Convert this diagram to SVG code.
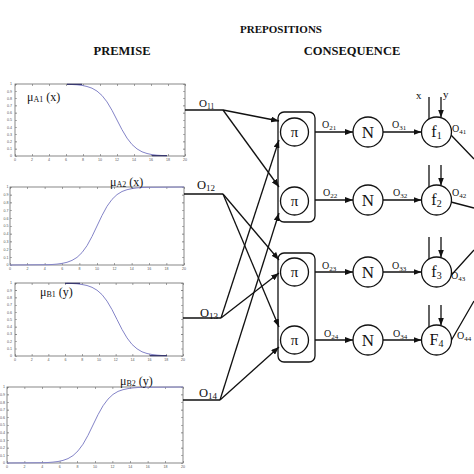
<svg xmlns="http://www.w3.org/2000/svg" width="474" height="474" viewBox="0 0 474 474">
<defs>
<style>
.t{font-family:"Liberation Serif","Times New Roman",serif;fill:#111}
.h{font-weight:bold;text-anchor:middle}
.fr{fill:none;stroke:#6a6a6a;stroke-width:0.8}
.tk{fill:none;stroke:#6a6a6a;stroke-width:2}
.cv{fill:none;stroke:#8484c8;stroke-width:1}
.dk{fill:none;stroke:#3a3a70;stroke-width:1.3}
.tl{font-family:"Liberation Sans",Arial,sans-serif;font-size:3.6px;fill:#555}
.ln{fill:none;stroke:#111;stroke-width:1.3}
.ar{fill:none;stroke:#111;stroke-width:1.3;marker-end:url(#ah)}
.nd{fill:#fff;stroke:#111;stroke-width:1.3}
.bx{fill:none;stroke:#111;stroke-width:1.3}
.c{text-anchor:middle}
</style>
<marker id="ah" markerWidth="8" markerHeight="6" refX="8" refY="3" orient="auto" markerUnits="userSpaceOnUse"><path d="M0,0 L8,3 L0,6 z" fill="#111"/></marker>
</defs>
<rect width="474" height="474" fill="#fff"/>

<text class="t h" x="281" y="33" font-size="11">PREPOSITIONS</text>
<text class="t h" x="122" y="55" font-size="12.5">PREMISE</text>
<text class="t h" x="352" y="55" font-size="12.5">CONSEQUENCE</text>

<g id="plot-a1">
<rect class="fr" x="15" y="84" width="170" height="72"/>
<path class="tk" d="M15,155H185.6M15,85H185.6" stroke-dasharray="0.6 16.4"/>
<path class="tk" d="M16,84V156.6M184,84V156.6" stroke-dasharray="0.6 6.6"/>
<polyline class="cv" points="67,84.3 72,84.5 77,84.8 82,85.4 87,86.5 92,88.2 97,91.1 102,95.5 107,101.9 112,110.3 117,120 122,129.7 127,138.1 132,144.5 137,148.9 142,151.8 147,153.5 152,154.6 157,155.2 162,155.5 167,155.7"/>
<path class="dk" d="M67,84.3H82M152,155.6H167"/>
<text class="tl" text-anchor="end"><tspan x="12" y="85.3">1</tspan><tspan x="12" y="92.5">0.9</tspan><tspan x="12" y="99.7">0.8</tspan><tspan x="12" y="106.9">0.7</tspan><tspan x="12" y="114.1">0.6</tspan><tspan x="12" y="121.3">0.5</tspan><tspan x="12" y="128.5">0.4</tspan><tspan x="12" y="135.7">0.3</tspan><tspan x="12" y="142.9">0.2</tspan><tspan x="12" y="150.1">0.1</tspan><tspan x="12" y="157.3">0</tspan></text>
<text class="tl" text-anchor="middle"><tspan x="15" y="160.5">0</tspan><tspan x="32" y="160.5">2</tspan><tspan x="49" y="160.5">4</tspan><tspan x="66" y="160.5">6</tspan><tspan x="83" y="160.5">8</tspan><tspan x="100" y="160.5">10</tspan><tspan x="117" y="160.5">12</tspan><tspan x="134" y="160.5">14</tspan><tspan x="151" y="160.5">16</tspan><tspan x="168" y="160.5">18</tspan><tspan x="185" y="160.5">20</tspan></text>
<text class="t" x="27" y="101" font-size="12">μ<tspan font-size="8" dy="1">A1</tspan><tspan dy="-1"> (x)</tspan></text>
</g>

<g id="plot-a2">
<rect class="fr" x="10" y="187" width="174" height="78"/>
<path class="tk" d="M10,264H184.6M10,188H184.6" stroke-dasharray="0.6 16.8"/>
<path class="tk" d="M11,187V265.6M183,187V265.6" stroke-dasharray="0.6 7.2"/>
<polyline class="cv" points="10,265 47,264.7 52,264.5 57,264.1 62,263.4 67,262.3 72,260.4 77,257.4 82,252.6 87,245.7 92,236.5 97,226 102,215.5 107,206.3 112,199.4 117,194.6 122,191.5 127,189.7 132,188.6 137,187.9 142,187.5 147,187.3 184,187"/>
<text class="tl" text-anchor="end"><tspan x="8.5" y="188.3">1</tspan><tspan x="8.5" y="196.1">0.9</tspan><tspan x="8.5" y="203.9">0.8</tspan><tspan x="8.5" y="211.7">0.7</tspan><tspan x="8.5" y="219.5">0.6</tspan><tspan x="8.5" y="227.3">0.5</tspan><tspan x="8.5" y="235.1">0.4</tspan><tspan x="8.5" y="242.9">0.3</tspan><tspan x="8.5" y="250.7">0.2</tspan><tspan x="8.5" y="258.5">0.1</tspan><tspan x="8.5" y="266.3">0</tspan></text>
<text class="tl" text-anchor="middle"><tspan x="10" y="269.5">0</tspan><tspan x="27.4" y="269.5">2</tspan><tspan x="44.8" y="269.5">4</tspan><tspan x="62.2" y="269.5">6</tspan><tspan x="79.6" y="269.5">8</tspan><tspan x="97" y="269.5">10</tspan><tspan x="114.4" y="269.5">12</tspan><tspan x="131.8" y="269.5">14</tspan><tspan x="149.2" y="269.5">16</tspan><tspan x="166.6" y="269.5">18</tspan><tspan x="184" y="269.5">20</tspan></text>
<text class="t" x="110" y="186" font-size="12">μ<tspan font-size="8" dy="1">A2</tspan><tspan dy="-1"> (x)</tspan></text>
</g>

<g id="plot-b1">
<rect class="fr" x="15" y="283" width="168" height="73"/>
<path class="tk" d="M15,355H183.6M15,284H183.6" stroke-dasharray="0.6 16.2"/>
<path class="tk" d="M16,283V356.6M182,283V356.6" stroke-dasharray="0.6 6.7"/>
<polyline class="cv" points="67,283.3 72,283.5 77,283.8 82,284.5 87,285.5 92,287.3 97,290.2 102,294.6 107,301.1 112,309.6 117,319.5 122,329.4 127,337.9 132,344.4 137,348.8 142,351.8 147,353.5 152,354.5 157,355.1 162,355.5 167,355.7"/>
<path class="dk" d="M65,283.3H80M150,355.6H167"/>
<text class="tl" text-anchor="end"><tspan x="12" y="284.3">1</tspan><tspan x="12" y="291.6">0.9</tspan><tspan x="12" y="298.9">0.8</tspan><tspan x="12" y="306.2">0.7</tspan><tspan x="12" y="313.5">0.6</tspan><tspan x="12" y="320.8">0.5</tspan><tspan x="12" y="328.1">0.4</tspan><tspan x="12" y="335.4">0.3</tspan><tspan x="12" y="342.7">0.2</tspan><tspan x="12" y="350">0.1</tspan><tspan x="12" y="357.3">0</tspan></text>
<text class="tl" text-anchor="middle"><tspan x="15" y="360.5">0</tspan><tspan x="31.8" y="360.5">2</tspan><tspan x="48.6" y="360.5">4</tspan><tspan x="65.4" y="360.5">6</tspan><tspan x="82.2" y="360.5">8</tspan><tspan x="99" y="360.5">10</tspan><tspan x="115.8" y="360.5">12</tspan><tspan x="132.6" y="360.5">14</tspan><tspan x="149.4" y="360.5">16</tspan><tspan x="166.2" y="360.5">18</tspan><tspan x="183" y="360.5">20</tspan></text>
<text class="t" x="40" y="296" font-size="12">μ<tspan font-size="8" dy="1">B1</tspan><tspan dy="-1"> (y)</tspan></text>
</g>

<g id="plot-b2">
<rect class="fr" x="7" y="387" width="176" height="76"/>
<path class="tk" d="M7,462H183.6M7,388H183.6" stroke-dasharray="0.6 17"/>
<path class="tk" d="M8,387V463.6M182,387V463.6" stroke-dasharray="0.6 7"/>
<polyline class="cv" points="7,463 43,462.7 48,462.5 53,462.1 58,461.5 63,460.4 68,458.6 73,455.6 78,450.9 83,444.2 88,435.3 93,425 98,414.7 103,405.8 108,399.1 113,394.4 118,391.4 123,389.7 128,388.6 133,387.9 138,387.5 143,387.3 183,387"/>
<text class="tl" text-anchor="end"><tspan x="5" y="388.3">1</tspan><tspan x="5" y="395.9">0.9</tspan><tspan x="5" y="403.5">0.8</tspan><tspan x="5" y="411.1">0.7</tspan><tspan x="5" y="418.7">0.6</tspan><tspan x="5" y="426.3">0.5</tspan><tspan x="5" y="433.9">0.4</tspan><tspan x="5" y="441.5">0.3</tspan><tspan x="5" y="449.1">0.2</tspan><tspan x="5" y="456.7">0.1</tspan><tspan x="5" y="464.3">0</tspan></text>
<text class="tl" text-anchor="middle"><tspan x="7" y="468">0</tspan><tspan x="24.6" y="468">2</tspan><tspan x="42.2" y="468">4</tspan><tspan x="59.8" y="468">6</tspan><tspan x="77.4" y="468">8</tspan><tspan x="95" y="468">10</tspan><tspan x="112.6" y="468">12</tspan><tspan x="130.2" y="468">14</tspan><tspan x="147.8" y="468">16</tspan><tspan x="165.4" y="468">18</tspan><tspan x="183" y="468">20</tspan></text>
<text class="t" x="120" y="385" font-size="12">μ<tspan font-size="8" dy="1">B2</tspan><tspan dy="-1"> (y)</tspan></text>
</g>

<g id="connectors">
<path class="ln" d="M185,110H223M184,194H223M183,318H221M183,400H220"/>
<path class="ar" d="M223,110L279,121"/>
<path class="ar" d="M223,110L279,187"/>
<path class="ar" d="M223,194L279,260"/>
<path class="ar" d="M223,194L279,327"/>
<path class="ar" d="M221,318L279,140"/>
<path class="ar" d="M221,318L279,273"/>
<path class="ar" d="M220,400L279,213"/>
<path class="ar" d="M220,400L279,347"/>
<path class="ar" d="M315,132H353"/>
<path class="ar" d="M315,200H353"/>
<path class="ar" d="M315,272H353"/>
<path class="ar" d="M315,340H353"/>
<path class="ar" d="M383,132H421.5"/>
<path class="ar" d="M383,200H421.5"/>
<path class="ar" d="M383,272H421.5"/>
<path class="ar" d="M383,340H421.5"/>
<path class="ar" d="M429,97V119.5M441,97V117.5"/>
<path class="ar" d="M429,165V187.5M441,165V185.5"/>
<path class="ar" d="M429,237V259.5M441,237V257.5"/>
<path class="ar" d="M429,305V327.5M441,305V325.5"/>
<path class="ln" d="M451,135L474,159M451,202L474,208M450.5,276L474,250M451.5,340L474,301"/>
<text class="t" x="199" y="107" font-size="11">O<tspan font-size="7.5" dy="1.5">11</tspan></text>
<text class="t" x="197" y="189" font-size="12.5">O<tspan font-size="9" dy="1.5">12</tspan></text>
<text class="t" x="200" y="317" font-size="12.5">O<tspan font-size="9" dy="1.5">13</tspan></text>
<text class="t" x="199" y="397" font-size="12.5">O<tspan font-size="9" dy="1.5">14</tspan></text>
<text class="t" x="322" y="128" font-size="10">O<tspan font-size="7" dy="1.5">21</tspan></text>
<text class="t" x="323" y="196" font-size="10">O<tspan font-size="7" dy="1.5">22</tspan></text>
<text class="t" x="322" y="269" font-size="10">O<tspan font-size="7" dy="1.5">23</tspan></text>
<text class="t" x="324" y="337" font-size="10">O<tspan font-size="7" dy="1.5">24</tspan></text>
<text class="t" x="392" y="128" font-size="10">O<tspan font-size="7" dy="1.5">31</tspan></text>
<text class="t" x="393" y="196" font-size="10">O<tspan font-size="7" dy="1.5">32</tspan></text>
<text class="t" x="392" y="269" font-size="10">O<tspan font-size="7" dy="1.5">33</tspan></text>
<text class="t" x="393" y="337" font-size="10">O<tspan font-size="7" dy="1.5">34</tspan></text>
<text class="t" x="452" y="132" font-size="10">O<tspan font-size="7" dy="1.5">41</tspan></text>
<text class="t" x="452" y="196" font-size="10">O<tspan font-size="7" dy="1.5">42</tspan></text>
<text class="t" x="451" y="279" font-size="10">O<tspan font-size="7" dy="1.5">43</tspan></text>
<text class="t" x="457" y="339" font-size="10">O<tspan font-size="7" dy="1.5">44</tspan></text>
<text class="t" x="416" y="99" font-size="11">x</text>
<text class="t" x="443" y="98" font-size="11">y</text>
</g>

<g id="layer2-box1"><rect class="bx" x="278" y="112" width="37" height="110" rx="6"/></g>
<g id="layer2-box2"><rect class="bx" x="278" y="253" width="37" height="109" rx="6"/></g>
<g id="pi1"><circle class="nd" cx="294.5" cy="132" r="14"/><text class="t c" x="294.5" y="137" font-size="15">π</text></g>
<g id="pi2"><circle class="nd" cx="294.5" cy="201" r="14"/><text class="t c" x="294.5" y="206" font-size="15">π</text></g>
<g id="pi3"><circle class="nd" cx="294.5" cy="272" r="14"/><text class="t c" x="294.5" y="277" font-size="15">π</text></g>
<g id="pi4"><circle class="nd" cx="294.5" cy="340" r="14"/><text class="t c" x="294.5" y="345" font-size="15">π</text></g>
<g id="n1"><circle class="nd" cx="368" cy="132" r="15"/><text class="t c" x="368" y="138" font-size="17">N</text></g>
<g id="n2"><circle class="nd" cx="368" cy="200" r="15"/><text class="t c" x="368" y="206" font-size="17">N</text></g>
<g id="n3"><circle class="nd" cx="368" cy="272" r="15"/><text class="t c" x="368" y="278" font-size="17">N</text></g>
<g id="n4"><circle class="nd" cx="368" cy="340" r="15"/><text class="t c" x="368" y="346" font-size="17">N</text></g>
<g id="f1"><circle class="nd" cx="436.5" cy="132" r="15"/><text class="t c" x="436.5" y="137" font-size="16">f<tspan font-size="10" dy="2">1</tspan></text></g>
<g id="f2"><circle class="nd" cx="436.5" cy="200" r="15"/><text class="t c" x="436.5" y="205" font-size="16">f<tspan font-size="10" dy="2">2</tspan></text></g>
<g id="f3"><circle class="nd" cx="436.5" cy="272" r="15"/><text class="t c" x="436.5" y="277" font-size="16">f<tspan font-size="10" dy="2">3</tspan></text></g>
<g id="f4"><circle class="nd" cx="436.5" cy="340" r="15"/><text class="t c" x="436.5" y="345" font-size="16">F<tspan font-size="10" dy="2">4</tspan></text></g>
</svg>
